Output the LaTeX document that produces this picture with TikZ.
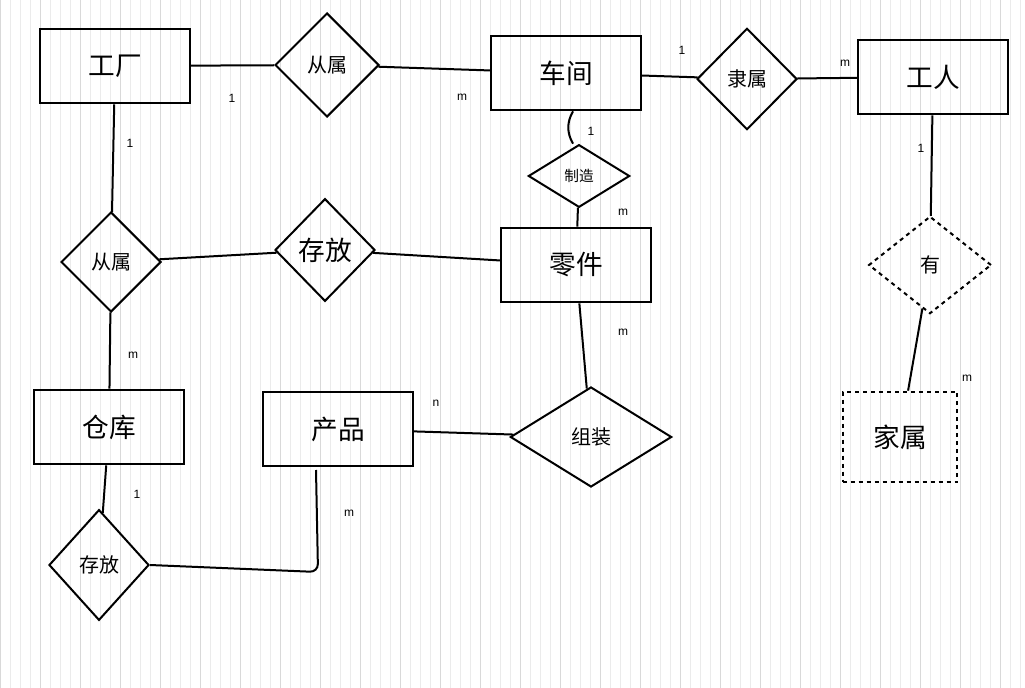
\documentclass[tikz,border=0pt]{standalone}
\usepackage{fontspec}
\setmainfont{Liberation Sans}
\newfontfamily\cjk{Noto Sans CJK SC}
\usetikzlibrary{shapes.geometric}
\tikzset{
  ent/.style={draw,line width=1.5pt,minimum width=112pt,minimum height=56pt,font=\cjk\fontsize{20}{22}\selectfont},
  rel/.style={draw,diamond,line width=1.5pt,inner sep=0pt,font=\cjk\fontsize{15}{17}\selectfont},
  lnk/.style={line width=1.5pt},
  card/.style={font=\fontsize{9}{10}\selectfont}
}
\begin{document}
\begin{tikzpicture}[x=0.75pt,y=-0.75pt]
    \useasboundingbox (0,0) rectangle (1025,688);
    \fill[white] (0,0) rectangle (1025,688);
    \draw[black!8,line width=0.4pt] (0,0) grid[step=10] (1025,688);
    \draw[black!15,line width=0.5pt] (0,0) grid[step=40] (1025,688);
    % entities
    \node[ent] (fac) at (115,66) {工厂};
    \node[ent] (shop) at (566,73) {车间};
    \node[ent] (wrk) at (933,77) {工人};
    \node[ent] (part) at (576,265) {零件};
    \node[ent] (store) at (109,427) {仓库};
    \node[ent] (prod) at (338,429) {产品};
    \node[ent,dashed,minimum width=86pt,minimum height=68pt] (fam) at (900,437) {家属};
    % relations
    \node[rel,minimum width=78pt,minimum height=78pt] (own1) at (327,65) {从属};
    \node[rel,minimum width=75pt,minimum height=76pt] (sub) at (747,79) {隶属};
    \node[rel,minimum width=76pt,minimum height=47pt,font=\cjk\fontsize{11}{12}\selectfont] (make) at (579,176) {制造};
    \node[rel,minimum width=75pt,minimum height=75pt] (own2) at (111,262) {从属};
    \node[rel,minimum width=75pt,minimum height=77pt,font=\cjk\fontsize{20}{22}\selectfont] (keep1) at (325,250) {存放};
    \node[rel,dashed,minimum width=92pt,minimum height=73pt] (has) at (930,265) {有};
    \node[rel,minimum width=121pt,minimum height=75pt] (asm) at (591,437) {组装};
    \node[rel,minimum width=75pt,minimum height=83pt] (keep2) at (99,565) {存放};
    % links
    \draw[lnk] (fac) -- (own1) -- (shop);
    \draw[lnk] (shop) -- (sub) -- (wrk);
    \draw[lnk] (shop.south -| 573,0) to[bend right=30] (make.north -| 573,0);
    \draw[lnk] (make) -- (part);
    \draw[lnk] (fac) -- (own2) -- (store);
    \draw[lnk] (own2) -- (keep1) -- (part);
    \draw[lnk] (part) -- (asm);
    \draw[lnk] (prod) -- (asm);
    \draw[lnk] (store) -- (keep2);
    \draw[lnk,rounded corners=6pt] (keep2.east) -- (318,572) -- (316,470);
    \draw[lnk] (wrk) -- (has) -- (fam);
    % cardinalities
    \node[card] (c1) at (232,98) {1};
    \node[card] (c2) at (462,97) {m};
    \node[card] (c3) at (682,50) {1};
    \node[card] (c4) at (845,63) {m};
    \node[card] (c5) at (591,131) {1};
    \node[card] (c6) at (623,212) {m};
    \node[card] (c7) at (130,143) {1};
    \node[card] (c8) at (133,355) {m};
    \node[card] (c9) at (623,332) {m};
    \node[card] (c10) at (436,403) {n};
    \node[card] (c11) at (137,494) {1};
    \node[card] (c12) at (349,513) {m};
    \node[card] (c13) at (921,148) {1};
    \node[card] (c14) at (967,378) {m};
\end{tikzpicture}
\end{document}
